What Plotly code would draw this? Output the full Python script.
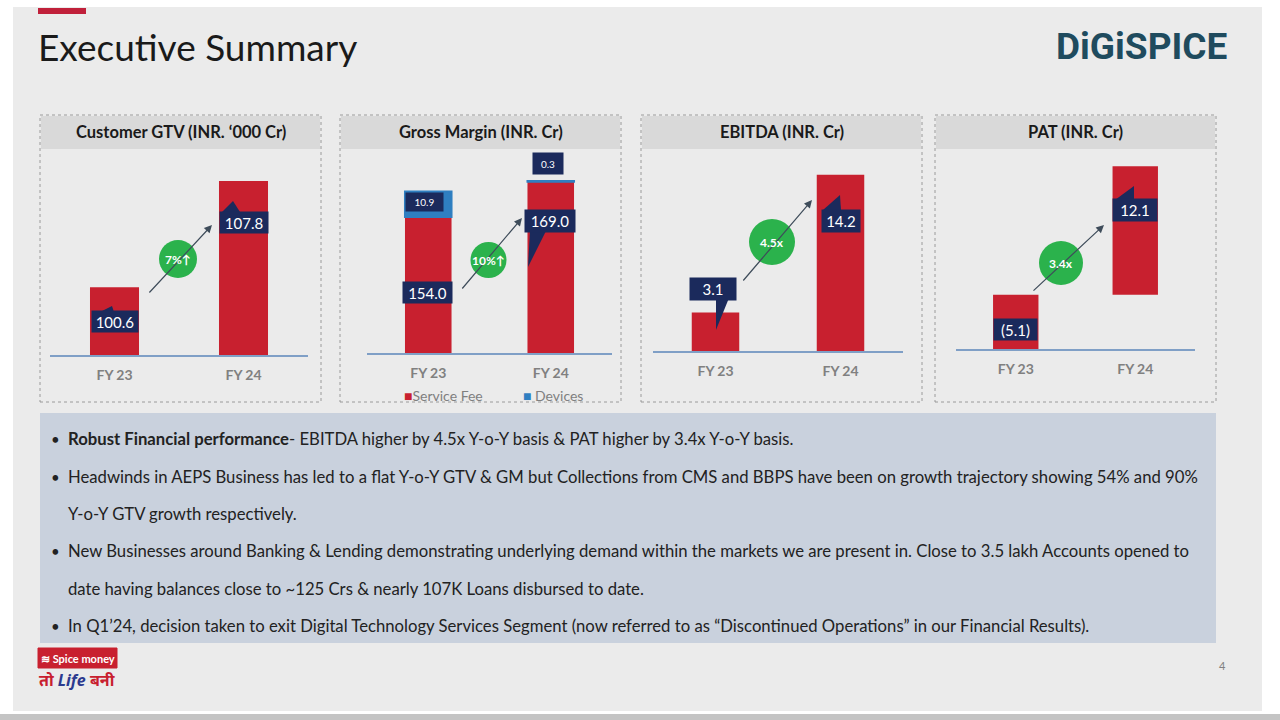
import plotly.graph_objects as go

W, H = 1280, 720

# ---------------- data ----------------
categories = ["FY 23", "FY 24"]
gtv_values = [100.6, 107.8]
gm_service_fee = [154.0, 169.0]
gm_devices = [10.9, 0.3]
ebitda_values = [3.1, 14.2]
pat_values = [-5.1, 12.1]

panel_titles = ["Customer GTV (INR. ‘000 Cr)", "Gross Margin (INR. Cr)",
                "EBITDA (INR. Cr)", "PAT (INR. Cr)"]
growth_labels = ["7%↑", "10%↑", "4.5x", "3.4x"]
legend_labels = ["Service Fee", "Devices"]
bullets = [
    "<b>Robust Financial performance</b>- EBITDA higher by 4.5x Y-o-Y basis & PAT higher by 3.4x Y-o-Y basis.",
    "Headwinds in AEPS Business has led to a flat Y-o-Y GTV & GM but Collections from CMS and BBPS have been on growth trajectory showing 54% and 90%",
    "Y-o-Y GTV growth respectively.",
    "New Businesses around Banking & Lending demonstrating underlying demand within the markets we are present in. Close to 3.5 lakh Accounts opened to",
    "date having balances close to ~125 Crs & nearly 107K Loans disbursed to date.",
    "In Q1’24, decision taken to exit Digital Technology Services Segment (now referred to as “Discontinued Operations” in our Financial Results).",
]
bullet_marks = [True, True, False, True, False, True]

# ---------------- styles ----------------
RED = "#c8202f"
NAVY = "#1b2a5c"
BLUE = "#2f7fc1"
GREEN = "#2bb24c"
FONT = "Lato"


def px(x):
    return x / W


def py(y):
    return 1 - y / H


fig = go.Figure()
shapes = []
annotations = []

# slide background
shapes.append(dict(type="rect", xref="paper", yref="paper", x0=px(13), x1=px(1262), y0=py(711), y1=py(7),
                   fillcolor="#ebebeb", line=dict(width=0), layer="below"))
shapes.append(dict(type="rect", xref="paper", yref="paper", x0=0, x1=1, y0=py(720), y1=py(714),
                   fillcolor="#c4c4c4", line=dict(width=0), layer="below"))
# red accent
shapes.append(dict(type="rect", xref="paper", yref="paper", x0=px(38), x1=px(86), y0=py(14), y1=py(8),
                   fillcolor="#c0203a", line=dict(width=0), layer="below"))

# panels: (left, right)
panels = [(40, 321), (340, 621), (641, 922), (935, 1216)]
for (l, r), title in zip(panels, panel_titles):
    shapes.append(dict(type="rect", xref="paper", yref="paper", x0=px(l + 1), x1=px(r - 1), y0=py(149), y1=py(116),
                       fillcolor="#d9d9d9", line=dict(width=0), layer="below"))
    shapes.append(dict(type="rect", xref="paper", yref="paper", x0=px(l), x1=px(r), y0=py(402), y1=py(115),
                       fillcolor="rgba(0,0,0,0)", line=dict(color="#9a9a9a", width=1, dash="3px,3px"), layer="below"))
    annotations.append(dict(xref="paper", yref="paper", x=px((l + r) / 2), y=py(132), text=f"<b>{title}</b>",
                            showarrow=False, font=dict(family=FONT, size=16.5, color="#1a1a1a"),
                            xanchor="center", yanchor="middle"))

# axis geometry: x domain px, baseline px, top px, base value, px per unit
geo = [
    ((50, 308), 355, 150, 96.0, 174 / 11.8),
    ((367, 612), 353, 150, 96.0, 2.345),
    ((653, 903), 351, 150, 0.0, 12.42),
    ((956, 1195), 349, 150, 0.0, 10.63),
]

layout_axes = {}
for i, ((x0, x1), base_px, top_px, base_v, ppu) in enumerate(geo, start=1):
    xa = "xaxis" if i == 1 else f"xaxis{i}"
    ya = "yaxis" if i == 1 else f"yaxis{i}"
    layout_axes[xa] = dict(domain=[px(x0), px(x1)], anchor=f"y{'' if i == 1 else i}",
                           type="category", showgrid=False, zeroline=False,
                           showline=True, linecolor="#7f9fc6", linewidth=1.5,
                           ticks="", ticklabelstandoff=6,
                           tickfont=dict(family=FONT, size=14, color="#808080", weight="bold"),
                           fixedrange=True)
    layout_axes[ya] = dict(domain=[py(base_px), py(top_px)], anchor=f"x{'' if i == 1 else i}",
                           range=[base_v, base_v + (base_px - top_px) / ppu],
                           showgrid=False, zeroline=False, showticklabels=False, showline=False,
                           fixedrange=True)

bar_kw = dict(width=0.38, hoverinfo="skip", showlegend=False)

# Panel 1
fig.add_trace(go.Bar(x=categories, y=gtv_values, marker=dict(color=RED, line=dict(width=0)),
                     xaxis="x", yaxis="y", **bar_kw))
# Panel 2 stacked
fig.add_trace(go.Bar(x=categories, y=gm_service_fee, name=legend_labels[0],
                     marker=dict(color=RED, line=dict(width=0)), xaxis="x2", yaxis="y2", **bar_kw))
fig.add_trace(go.Bar(x=categories, y=gm_devices, name=legend_labels[1], base=gm_service_fee,
                     marker=dict(color=BLUE, line=dict(color=BLUE, width=2)), xaxis="x2", yaxis="y2", **bar_kw))
# Panel 3
fig.add_trace(go.Bar(x=categories, y=ebitda_values, marker=dict(color=RED, line=dict(width=0)),
                     xaxis="x3", yaxis="y3", **bar_kw))
# Panel 4 (magnitudes stacked as in the slide)
pat_heights = [abs(v) for v in pat_values]
pat_bases = [0, pat_heights[0]]
fig.add_trace(go.Bar(x=categories, y=pat_heights, base=pat_bases, marker=dict(color=RED, line=dict(width=0)),
                     xaxis="x4", yaxis="y4", **bar_kw))


def fmt(v, nd=1):
    s = f"{abs(v):.{nd}f}"
    return f"({s})" if v < 0 else s


def label(ax, cat, yv, yshift, text, w, h, size=15, xshift=0):
    annotations.append(dict(xref=f"x{ax}" if ax > 1 else "x", yref=f"y{ax}" if ax > 1 else "y",
                            x=cat, y=yv, yshift=yshift, xshift=xshift, text=text, showarrow=False,
                            bgcolor=NAVY, width=w, height=h, borderpad=0,
                            font=dict(family=FONT, size=size, color="white"),
                            xanchor="center", yanchor="middle"))


# value labels (anchored at bar tops, shifted in px)
label(1, categories[0], gtv_values[0], -34, fmt(gtv_values[0]), 46, 21)
label(1, categories[1], gtv_values[1], -41, fmt(gtv_values[1]), 48, 21)
gm_tot = [a + b for a, b in zip(gm_service_fee, gm_devices)]
label(2, categories[0], gm_service_fee[0], -76, fmt(gm_service_fee[0]), 49, 21, xshift=-1)
label(2, categories[0], gm_tot[0], -11, fmt(gm_devices[0]), 37, 18, size=10, xshift=-4)
label(2, categories[1], gm_service_fee[1], -39, fmt(gm_service_fee[1]), 50, 22, xshift=-1)
label(2, categories[1], gm_tot[1], 18, fmt(gm_devices[1]), 30, 21, size=10, xshift=-3)
label(3, categories[0], ebitda_values[0], 24, fmt(ebitda_values[0]), 46, 22, xshift=-3)
label(3, categories[1], ebitda_values[1], -46, fmt(ebitda_values[1]), 38, 22)
label(4, categories[0], pat_heights[0], -35, fmt(pat_values[0]), 43, 21)
label(4, categories[1], pat_bases[1] + pat_heights[1], -44, fmt(pat_values[1]), 44, 22)

# callout tails
tails = [
    [(100, 312), (114, 312), (112, 306)],
    [(222, 212), (240, 212), (233, 201)],
    [(530, 231), (546, 231), (528, 267)],
    [(716, 298), (729, 298), (716, 330)],
    [(823, 210), (841, 210), (840, 195)],
    [(1115, 200), (1134, 200), (1134, 186)],
]
for tri in tails:
    path = "M " + " L ".join(f"{px(x):.5f},{py(y):.5f}" for x, y in tri) + " Z"
    shapes.append(dict(type="path", xref="paper", yref="paper", path=path, fillcolor=NAVY,
                       line=dict(width=0), layer="above"))

# growth arrows and circles
arrows = [((148, 294), (212, 225)), ((461, 290), (522, 218)), ((742, 282), (812, 200)), ((1032, 292), (1104, 225))]
circles = [((178, 259), 19), ((488.5, 260), 18), ((772, 242), 23), ((1061, 263), 22)]
for ((tx, ty), (hx, hy)), ((cx, cy), r), g in zip(arrows, circles, growth_labels):
    annotations.append(dict(xref="paper", yref="paper", x=px(hx), y=py(hy), ax=tx - hx, ay=ty - hy,
                            axref="pixel", ayref="pixel", text="", showarrow=True, arrowhead=2,
                            arrowsize=1.3, arrowwidth=1.2, arrowcolor="#3e4c5a", standoff=0, startstandoff=0))
    shapes.append(dict(type="circle", xref="paper", yref="paper", x0=px(cx - r), x1=px(cx + r),
                       y0=py(cy + r), y1=py(cy - r), fillcolor=GREEN, line=dict(width=0), layer="above"))
    annotations.append(dict(xref="paper", yref="paper", x=px(cx), y=py(cy), text=f"<b>{g}</b>", showarrow=False,
                            font=dict(family=FONT, size=12, color="white"), xanchor="center", yanchor="middle"))

# legend for gross margin
annotations.append(dict(xref="paper", yref="paper", x=px(402), y=py(395),
                        text=f'<span style="color:{RED}">■</span>{legend_labels[0]}', showarrow=False,
                        font=dict(family=FONT, size=14, color="#7f7f7f"), xanchor="left", yanchor="middle"))
annotations.append(dict(xref="paper", yref="paper", x=px(521), y=py(395),
                        text=f'<span style="color:{BLUE}">■</span> {legend_labels[1]}', showarrow=False,
                        font=dict(family=FONT, size=14, color="#7f7f7f"), xanchor="left", yanchor="middle"))

# text box
shapes.append(dict(type="rect", xref="paper", yref="paper", x0=px(40), x1=px(1216), y0=py(643), y1=py(413),
                   fillcolor="#c9d1dd", line=dict(width=0), layer="below"))
line_ys = [439, 477, 514, 551, 589, 626]
for t, mark, yy in zip(bullets, bullet_marks, line_ys):
    if mark:
        annotations.append(dict(xref="paper", yref="paper", x=px(49), y=py(yy), text="•", showarrow=False,
                                font=dict(family=FONT, size=15, color="#222222"), xanchor="left", yanchor="middle"))
    annotations.append(dict(xref="paper", yref="paper", x=px(66), y=py(yy), text=t, showarrow=False,
                            font=dict(family=FONT, size=16.7, color="#222222"), xanchor="left", yanchor="middle"))

# title and logo
annotations.append(dict(xref="paper", yref="paper", x=px(36), y=py(47), text="Executive Summary", showarrow=False,
                        font=dict(family=FONT, size=37, color="#1a1a1a"), xanchor="left", yanchor="middle"))
annotations.append(dict(xref="paper", yref="paper", x=px(1229), y=py(47), text="<b>DiGiSPICE</b>", showarrow=False,
                        font=dict(family="Roboto", size=37, color="#1f4b5e"), xanchor="right", yanchor="middle"))
# page number
annotations.append(dict(xref="paper", yref="paper", x=px(1222), y=py(665), text="4", showarrow=False,
                        font=dict(family=FONT, size=11, color="#808080"), xanchor="center", yanchor="middle"))
# spice money logo
shapes.append(dict(type="rect", xref="paper", yref="paper", x0=px(38), x1=px(117), y0=py(668), y1=py(648),
                   fillcolor=RED, line=dict(color=RED, width=1), layer="above"))
annotations.append(dict(xref="paper", yref="paper", x=px(78), y=py(658), text="<b>≋ Spice money</b>", showarrow=False,
                        font=dict(family=FONT, size=11, color="white"), xanchor="center", yanchor="middle"))
annotations.append(dict(xref="paper", yref="paper", x=px(37), y=py(680),
                        text=f'<b><span style="color:{RED}">तो</span> <i><span style="color:#2b3a8f">Life</span></i> <span style="color:{RED}">बनी</span></b>',
                        showarrow=False, font=dict(family="Noto Sans", size=16), xanchor="left", yanchor="middle"))

fig.update_layout(width=W, height=H, margin=dict(l=0, r=0, t=0, b=0), paper_bgcolor="white",
                  plot_bgcolor="rgba(0,0,0,0)", bargap=0.62, barmode="overlay", showlegend=False,
                  shapes=shapes, annotations=annotations, **layout_axes)

fig.write_html("out.html")
